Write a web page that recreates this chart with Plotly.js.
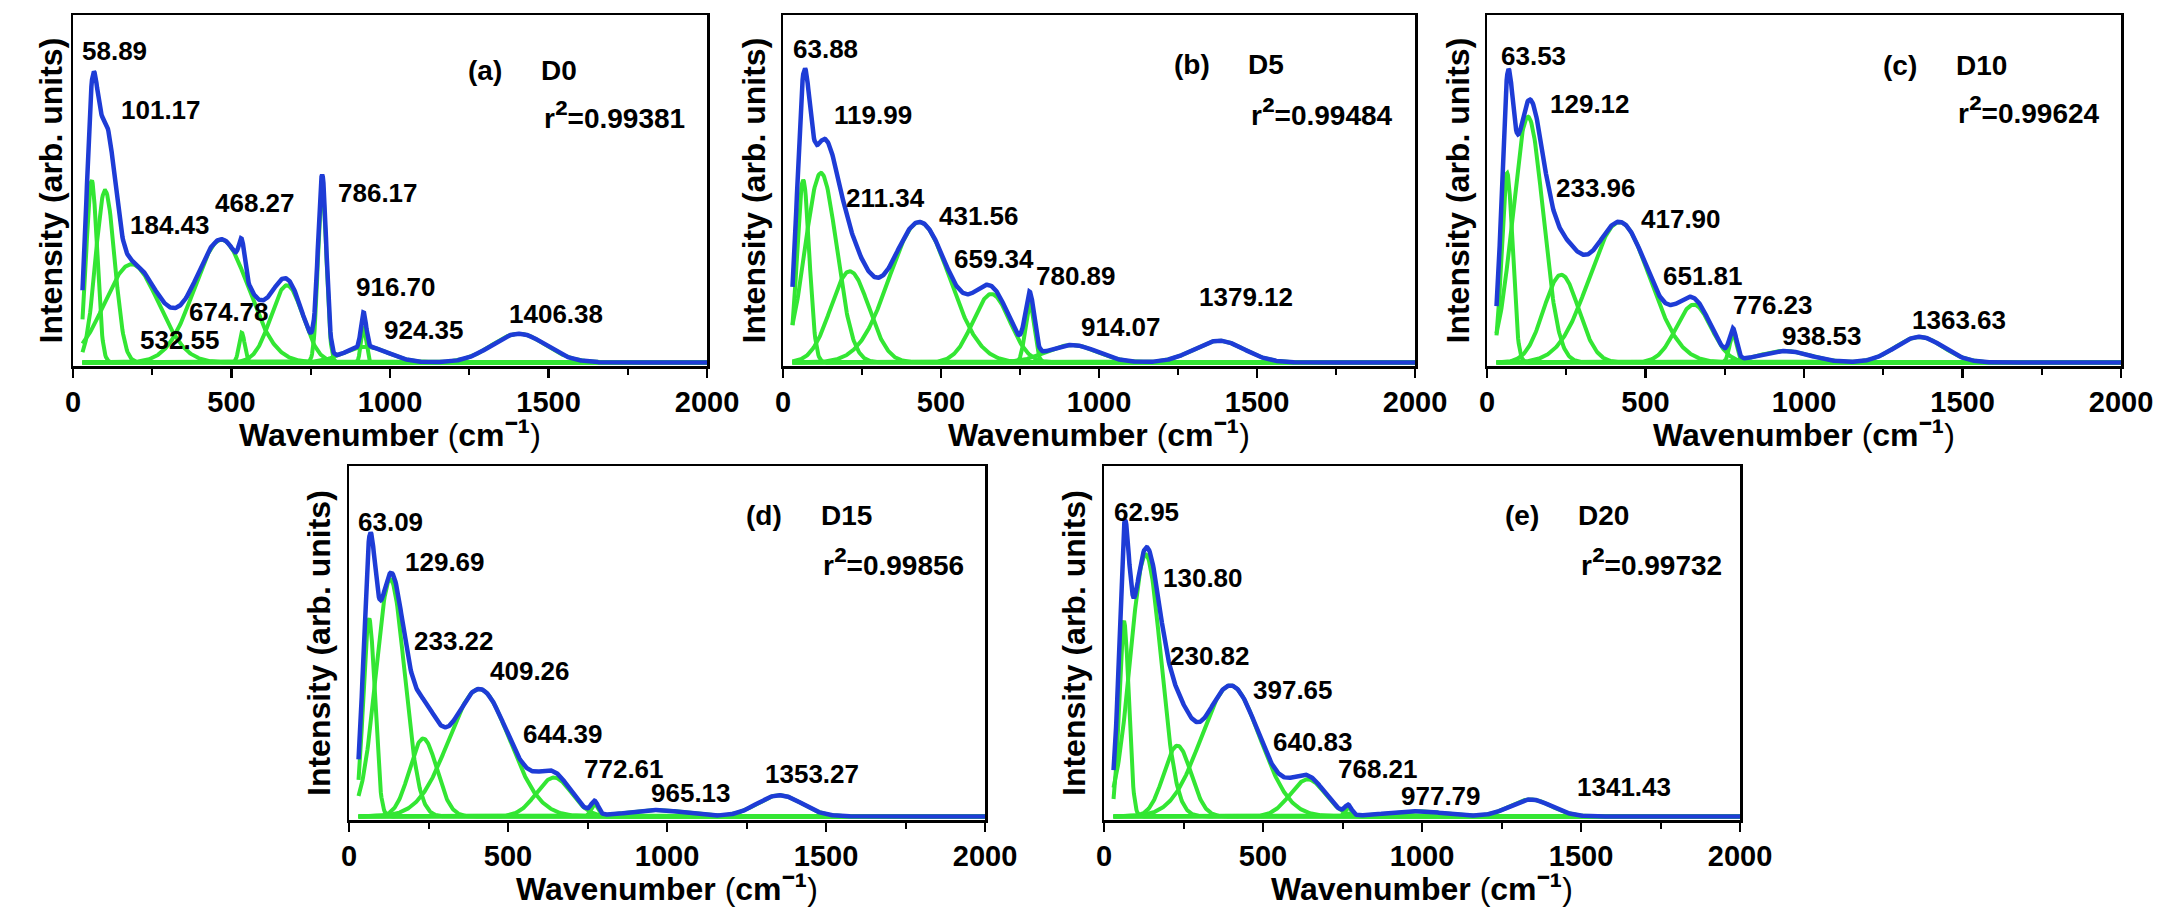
<!DOCTYPE html>
<html>
<head>
<meta charset="utf-8">
<script src="https://cdn.plot.ly/plotly-3.0.1.min.js"></script>
<style>
html,body{margin:0;padding:0;background:#ffffff;}
#chart{width:2176px;height:913px;}
</style>
</head>
<body>
<div id="chart"></div>
<script>
// ---------- data ----------
// Peak-fit components: centre (cm-1), height (arb. units, 0-100 scale), width (sigma, cm-1)
const sampleNames = ["D0", "D5", "D10", "D15", "D20"];
const panelLetters = ["(a)", "(b)", "(c)", "(d)", "(e)"];
const rSquared = ["0.99381", "0.99484", "0.99624", "0.99856", "0.99732"];

const d0Centers = [58.89, 101.17, 184.43, 468.27, 532.55, 674.78, 786.17, 916.70, 924.35, 1406.38];
const d0Heights = [52, 49, 28, 35, 8.5, 22, 51, 9.8, 4.5, 8.2];
const d0Widths  = [17, 30, 85, 85, 9, 50, 13, 8, 70, 85];

const d5Centers = [63.88, 119.99, 211.34, 431.56, 659.34, 780.89, 914.07, 1379.12];
const d5Heights = [52, 54, 26, 40, 19.5, 16.7, 5, 6.2];
const d5Widths  = [19, 50, 60, 95, 58, 14, 80, 80];

const d10Centers = [63.53, 129.12, 233.96, 417.90, 651.81, 776.23, 938.53, 1363.63];
const d10Heights = [54, 70, 25, 40, 16.5, 8, 3.3, 7.3];
const d10Widths  = [17, 48, 55, 95, 55, 11, 80, 75];

const d15Centers = [63.09, 129.69, 233.22, 409.26, 644.39, 772.61, 965.13, 1353.27];
const d15Heights = [56, 67, 22, 36, 11, 3.5, 1.8, 6];
const d15Widths  = [18, 45, 43, 95, 55, 11, 90, 70];

const d20Centers = [62.95, 130.80, 230.82, 397.65, 640.83, 768.21, 977.79, 1341.43];
const d20Heights = [55, 74, 20, 37, 10.5, 2.5, 1.5, 4.8];
const d20Widths  = [15, 48, 43, 92, 55, 10, 90, 65];

const baseline = 1.0;
const xStart = 30, xEnd = 2000;
const xTicks = [0, 500, 1000, 1500, 2000];

// ---------- layout-only settings ----------
const panels = [
  {c: d0Centers,  h: d0Heights,  s: d0Widths,  xd: [73/2176, 707/2176],   yd: [547/913, 898/913], ytShift: -23,
   lx: [132, 279, 305, 574, 338, 493, 963, 1018, 1106, 1525],
   ly: [89.8, 72.9, 40.3, 46.3, 7.4, 15.4, 49.3, 22.4, 10.2, 14.9],
   tag: [1301, 1532, 1709], tagY: [84.2, 71.4]},
  {c: d5Centers,  h: d5Heights,  s: d5Widths,  xd: [783/2176, 1415/2176], yd: [547/913, 898/913], ytShift: -30,
   lx: [136, 284, 324, 619, 668, 926, 1070, 1465],
   ly: [90.3, 71.4, 47.9, 42.7, 30.4, 25.7, 11.1, 19.6],
   tag: [1295, 1527, 1705], tagY: [86, 72.4]},
  {c: d10Centers, h: d10Heights, s: d10Widths, xd: [1487/2176, 2121/2176], yd: [547/913, 898/913], ytShift: -30,
   lx: [148, 324, 343, 613, 682, 901, 1058, 1489],
   ly: [88.4, 74.7, 50.6, 41.8, 25.7, 17.5, 8.5, 13.2],
   tag: [1304, 1559, 1710], tagY: [85.5, 72.8]},
  {c: d15Centers, h: d15Heights, s: d15Widths, xd: [349/2176, 985/2176],  yd: [93/913, 447/913], ytShift: -30,
   lx: [129, 302, 330, 569, 673, 866, 1077, 1457],
   ly: [84.1, 72.8, 50.6, 42.1, 24.2, 14.3, 7.7, 12.9],
   tag: [1305, 1563, 1713], tagY: [86, 72.8]},
  {c: d20Centers, h: d20Heights, s: d20Widths, xd: [1104/2176, 1740/2176], yd: [93/913, 447/913], ytShift: -30,
   lx: [134, 310, 333, 594, 657, 862, 1059, 1636],
   ly: [86.9, 68.5, 46.4, 36.7, 21.9, 14.3, 6.8, 9.3],
   tag: [1315, 1570, 1723], tagY: [86, 72.8]}
];

const FONT = "Liberation Sans, Arial, Helvetica, sans-serif";
const GREEN = "#33e633";
const BLUE = "#1e3cd6";

const xs = [];
for (let x = xStart; x <= xEnd; x += 2) xs.push(x);

function gauss(x, c, h, s) { return h * Math.exp(-((x - c) * (x - c)) / (2 * s * s)); }

const traces = [];
const annotations = [];
const layout = {
  width: 2176, height: 913,
  margin: {l: 0, r: 0, t: 0, b: 0},
  paper_bgcolor: "#ffffff", plot_bgcolor: "#ffffff",
  showlegend: false,
  font: {family: FONT, color: "#000"}
};

panels.forEach((p, i) => {
  const k = i === 0 ? "" : String(i + 1);
  const xr = "x" + k, yr = "y" + k;
  // green components
  p.c.forEach((c, j) => {
    traces.push({
      type: "scatter", mode: "lines", x: xs,
      y: xs.map(x => baseline + gauss(x, c, p.h[j], p.s[j])),
      xaxis: xr, yaxis: yr,
      line: {color: GREEN, width: 4}, hoverinfo: "skip"
    });
  });
  // blue cumulative fit
  traces.push({
    type: "scatter", mode: "lines", x: xs,
    y: xs.map(x => baseline + p.c.reduce((acc, c, j) => acc + gauss(x, c, p.h[j], p.s[j]), 0)),
    xaxis: xr, yaxis: yr,
    line: {color: BLUE, width: 4.5}, hoverinfo: "skip"
  });

  layout["xaxis" + k] = {
    domain: p.xd, anchor: yr, range: [0, 2000],
    tickmode: "array", tickvals: xTicks, ticktext: xTicks.map(String),
    ticks: "outside", ticklen: 9, tickwidth: 2.5, tickcolor: "#000",
    showline: true, linewidth: 2.5, linecolor: "#000", mirror: true,
    showgrid: false, zeroline: false,
    tickfont: {family: FONT, size: 29, color: "#000", weight: "bold"},
    minor: {tickmode: "linear", tick0: 0, dtick: 250, ticks: "outside", ticklen: 6, tickwidth: 2, tickcolor: "#000", showgrid: false}
  };
  layout["yaxis" + k] = {
    domain: p.yd, anchor: xr, range: [0, 100],
    showticklabels: false, ticks: "",
    showline: true, linewidth: 2.5, linecolor: "#000", mirror: true,
    showgrid: false, zeroline: false
  };

  // peak labels
  p.c.forEach((c, j) => {
    annotations.push({
      xref: xr, yref: yr, x: p.lx[j], y: p.ly[j],
      text: "<b>" + c.toFixed(2) + "</b>", showarrow: false,
      xanchor: "center", yanchor: "middle",
      font: {family: FONT, size: 26, color: "#000"}
    });
  });
  // panel tag, sample name, r^2
  annotations.push({xref: xr, yref: yr, x: p.tag[0], y: p.tagY[0], text: "<b>" + panelLetters[i] + "</b>",
    showarrow: false, xanchor: "center", yanchor: "middle", font: {family: FONT, size: 28, color: "#000"}});
  annotations.push({xref: xr, yref: yr, x: p.tag[1], y: p.tagY[0], text: "<b>" + sampleNames[i] + "</b>",
    showarrow: false, xanchor: "center", yanchor: "middle", font: {family: FONT, size: 28, color: "#000"}});
  annotations.push({xref: xr, yref: yr, x: p.tag[2], y: p.tagY[1],
    text: "<b>r<span style='font-size:38px'>²</span>=" + rSquared[i] + "</b>",
    showarrow: false, xanchor: "center", yanchor: "middle", font: {family: FONT, size: 28, color: "#000"}});

  // axis titles
  annotations.push({xref: xr + " domain", yref: yr + " domain", x: 0.5, y: 0, yshift: -67,
    text: "<b>Wavenumber</b> (<b>cm<span style='font-size:38px'>⁻¹</span></b>)", showarrow: false,
    xanchor: "center", yanchor: "middle", font: {family: FONT, size: 32, color: "#000"}});
  annotations.push({xref: xr + " domain", yref: yr + " domain", x: 0, y: 0.5, xshift: p.ytShift,
    text: "<b>Intensity (arb. units)</b>", showarrow: false, textangle: -90,
    xanchor: "center", yanchor: "middle", font: {family: FONT, size: 32, color: "#000"}});
});

layout.annotations = annotations;
Plotly.newPlot("chart", traces, layout, {staticPlot: true, displayModeBar: false});
</script>
</body>
</html>
